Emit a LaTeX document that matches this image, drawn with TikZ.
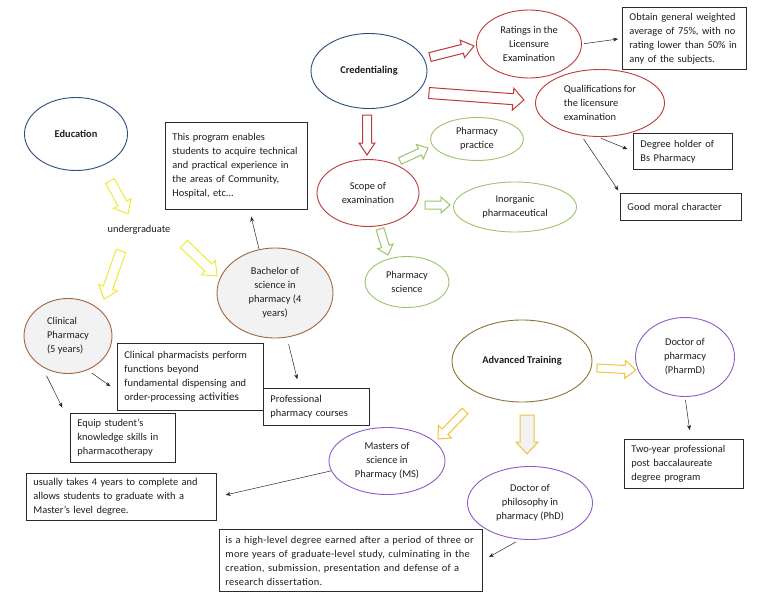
\documentclass[tikz,border=0pt]{standalone}
\usepackage{fontspec}
\setmainfont{Carlito}
\usetikzlibrary{shapes.geometric,arrows.meta,calc}
\definecolor{txt}{HTML}{1E1E1E}
\definecolor{boxc}{HTML}{2A2A2A}
\definecolor{cblue}{HTML}{2F4B7C}
\definecolor{cred}{HTML}{C0393B}
\definecolor{cgreen}{HTML}{9CC46A}
\definecolor{cbrown}{HTML}{A5643C}
\definecolor{colive}{HTML}{8A7536}
\definecolor{cpurple}{HTML}{8D5BC8}
\definecolor{cyellow}{HTML}{EFEC30}
\definecolor{cgold}{HTML}{F3C13A}
\definecolor{cgrayfill}{HTML}{F2F2F2}
% block arrow: style, from, to, shaft half-width, head half-width, head length
\newcommand\barrow[6]{%
  \draw[#1] ($(#2)!#4!90:(#3)$) -- ($(#3)!#6!(#2)!#4!90:(#3)$) -- ($(#3)!#6!(#2)!#5!90:(#3)$) -- (#3)
    -- ($(#3)!#6!(#2)!#5!-90:(#3)$) -- ($(#3)!#6!(#2)!#4!-90:(#3)$) -- ($(#2)!#4!-90:(#3)$) -- cycle;}
\tikzset{
  fnt/.style={font=\fontsize{10.4}{14}\selectfont, text=txt},
  ell/.style={ellipse, draw, line width=0.9pt, inner sep=0pt, align=center, fnt},
  box/.style={rectangle, draw=boxc, line width=0.9pt, anchor=north west, align=left, inner xsep=7pt, inner ysep=2pt, fnt},
  thinarrow/.style={draw=black!85, line width=0.5pt, -{Stealth[length=5pt,width=4pt]}},
  yarrow/.style={draw=cyellow, line width=1pt, fill=white, line join=miter},
  rarrow/.style={draw=cred, line width=1pt, fill=white, line join=miter},
  garrow/.style={draw=cgreen, line width=1pt, fill=white, line join=miter},
  oarrow/.style={draw=cgold, line width=1pt, fill=white, line join=miter},
}
\begin{document}
\begin{tikzpicture}[x=1pt,y=-1pt]
\useasboundingbox[fill=white] (0,0) rectangle (768,594);

% ellipses
\node[ell, draw=cblue, minimum width=103, minimum height=73] (edu) at (76,134) {\bfseries Education};
\node[ell, draw=cblue, minimum width=116, minimum height=75] (cred) at (369,71) {\bfseries Credentialing};
\node[ell, draw=cred, minimum width=105, minimum height=68] (rat) at (529,44) {Ratings in the\\Licensure\\Examination};
\node[ell, draw=cred, minimum width=129, minimum height=67, align=left] (qual) at (600,103) {Qualifications for\\the licensure\\examination};
\node[ell, draw=cred, minimum width=102, minimum height=67] (scope) at (368,193) {Scope of\\examination};
\node[ell, draw=cgreen, minimum width=93, minimum height=43] (pp) at (477,139) {Pharmacy\\practice};
\node[ell, draw=cgreen, minimum width=123, minimum height=50] (inorg) at (515,207) {Inorganic\\pharmaceutical};
\node[ell, draw=cgreen, minimum width=84, minimum height=51] (ps) at (407,282) {Pharmacy\\science};
\node[ell, draw=cbrown, fill=cgrayfill, minimum width=116, minimum height=90] (bach) at (275,293) {Bachelor of\\science in\\pharmacy (4\\years)};
\node[ell, draw=cbrown, fill=cgrayfill, minimum width=88, minimum height=75, align=left] (clin) at (68,336) {Clinical\\Pharmacy\\(5 years)};
\node[ell, draw=colive, minimum width=140, minimum height=82] (adv) at (522,361) {\bfseries Advanced Training};
\node[ell, draw=cpurple, minimum width=99, minimum height=79] (pharmd) at (685,357) {Doctor of\\pharmacy\\(PharmD)};
\node[ell, draw=cpurple, minimum width=116, minimum height=67] (ms) at (387,461) {Masters of\\science in\\Pharmacy (MS)};
\node[ell, draw=cpurple, minimum width=125, minimum height=73] (phd) at (530,503) {Doctor of\\philosophy in\\pharmacy (PhD)};
\node[fnt] (und) at (139,230) {undergraduate};

% boxes
\node[box, text width=128, minimum height=87] (prog) at (165,122) {This program enables\\students to acquire technical\\and practical experience in\\the areas of Community,\\Hospital, etc...\\[4pt]};
\node[box, text width=110, minimum height=62] (obt) at (622,7) {Obtain general weighted\\average of 75\%, with no\\rating lower than 50\% in\\any of the subjects.};
\node[box, text width=85, minimum height=36] (deg) at (633,133) {Degree holder of\\Bs Pharmacy};
\node[box, text width=107, minimum height=27] (good) at (620,193) {Good moral character};
\node[box, text width=132, minimum height=67] (cp) at (117,343) {Clinical pharmacists perform\\functions beyond\\fundamental dispensing and\\order-processing {\fontsize{11.2}{14}\selectfont activities}};
\node[box, text width=92, minimum height=37] (prof) at (263,388) {Professional\\pharmacy courses};
\node[box, text width=91, minimum height=49] (equip) at (70,413) {Equip student’s\\knowledge skills in\\pharmacotherapy};
\node[box, text width=176, minimum height=47] (usual) at (26,473) {usually takes 4 years to complete and\\allows students to graduate with a\\Master’s level degree.};
\node[box, inner xsep=6pt, text width=251, minimum height=62] (high) at (219,529) {\addfontfeatures{LetterSpace=2.5}is a high-level degree earned after a period of three or\\more years of graduate-level study, culminating in the\\creation, submission, presentation and defense of a\\research dissertation.};
\node[box, text width=105, minimum height=49] (two) at (624,439) {Two-year professional\\post baccalaureate\\degree program};

% thin arrows
\draw[thinarrow, shorten <=2pt, shorten >=4pt] (rat.east) -- (obt.west);
\draw[thinarrow, shorten <=3pt, shorten >=6pt] ([xshift=-2pt]qual.south) -- (deg.west);
\draw[thinarrow, shorten <=4pt, shorten >=3pt] (qual.240) -- (good.north west);
\draw[thinarrow, shorten >=7pt] (bach.110) -- ([xshift=13pt]prog.south);
\draw[thinarrow, shorten <=7pt, shorten >=9pt] (bach.-75) -- ([xshift=-17pt]prof.north);
\draw[thinarrow, shorten <=5pt, shorten >=8pt] (clin.-60) -- ([yshift=-14pt]cp.west);
\draw[thinarrow, shorten <=10pt, shorten >=6pt] (clin.-130) -- ([xshift=-5pt]equip.north west);
\draw[thinarrow, shorten >=9pt] (ms.190) -- (usual.east);
\draw[thinarrow, shorten <=5pt, shorten >=7pt] (phd.-105) -- (high.east);
\draw[thinarrow, shorten <=3pt, shorten >=9pt] (pharmd.south) -- ([xshift=7pt]two.north);

% block arrows
\coordinate (y1a) at (110,181); \coordinate (y1b) at (128,214);
\coordinate (y2a) at (121,251); \coordinate (y2b) at (104,299);
\coordinate (y3a) at (184,244); \coordinate (y3b) at (217,276);
\barrow{yarrow}{y1a}{y1b}{5pt}{10pt}{12pt}
\barrow{yarrow}{y2a}{y2b}{5pt}{10pt}{12pt}
\barrow{yarrow}{y3a}{y3b}{5pt}{10pt}{12pt}
\coordinate (r1a) at (430,57); \coordinate (r1b) at (474,46);
\coordinate (r2a) at (429,93); \coordinate (r2b) at (524,100);
\coordinate (r3a) at (367,115); \coordinate (r3b) at (367,155);
\barrow{rarrow}{r1a}{r1b}{4.5pt}{9pt}{12pt}
\barrow{rarrow}{r2a}{r2b}{5.5pt}{11pt}{11pt}
\barrow{rarrow}{r3a}{r3b}{4.5pt}{8pt}{12pt}
\coordinate (g1a) at (400,161); \coordinate (g1b) at (428,148);
\coordinate (g2a) at (425,205); \coordinate (g2b) at (450,205);
\coordinate (g3a) at (380,229); \coordinate (g3b) at (388,255);
\barrow{garrow}{g1a}{g1b}{3.5pt}{8pt}{9pt}
\barrow{garrow}{g2a}{g2b}{4pt}{8pt}{9pt}
\barrow{garrow}{g3a}{g3b}{4pt}{8pt}{9pt}
\coordinate (o1a) at (597,368); \coordinate (o1b) at (636,370);
\coordinate (o2a) at (465,411); \coordinate (o2b) at (438,439);
\coordinate (o3a) at (527,415); \coordinate (o3b) at (527,454);
\barrow{oarrow}{o1a}{o1b}{4pt}{9pt}{11pt}
\barrow{oarrow}{o2a}{o2b}{4pt}{9pt}{10pt}
\barrow{oarrow, fill=cgrayfill}{o3a}{o3b}{7pt}{11pt}{12pt}
\end{tikzpicture}
\end{document}
